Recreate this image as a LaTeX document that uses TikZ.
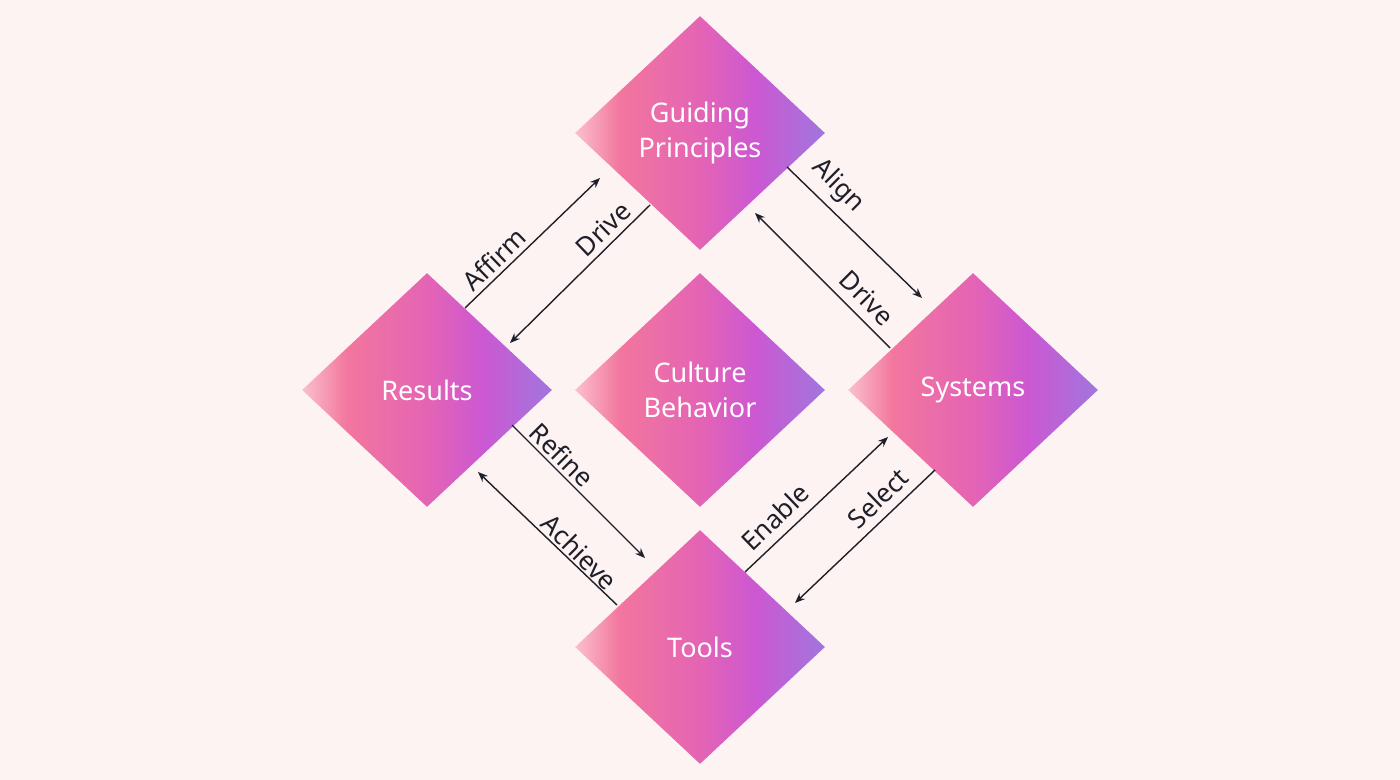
\documentclass[tikz,border=0pt]{standalone}
\usepackage{fontspec}
\setmainfont{Noto Sans}
\usetikzlibrary{shapes.geometric,arrows.meta}
\definecolor{bg}{HTML}{FDF3F2}
\definecolor{ink}{HTML}{1F1F2A}
\pgfdeclarehorizontalshading{dia}{100bp}{color(0bp)=({rgb,255:red,251;green,192;blue,204});color(25bp)=({rgb,255:red,251;green,192;blue,204});color(34bp)=({rgb,255:red,242;green,118;blue,158});color(50bp)=({rgb,255:red,228;green,100;blue,180});color(61bp)=({rgb,255:red,204;green,88;blue,210});color(75bp)=({rgb,255:red,160;green,118;blue,222});color(100bp)=({rgb,255:red,160;green,118;blue,222})}
\begin{document}
\begin{tikzpicture}[x=0.5pt,y=-0.5pt,
  dia/.style={diamond,shading=dia,minimum width=125pt,minimum height=117pt,inner sep=0pt,text=white,font=\fontsize{13.5}{17.5}\selectfont,align=center},
  arr/.style={draw=ink,line width=0.7pt,-{Stealth[length=5pt,width=4pt]}},
  lab/.style={text=ink,font=\fontsize{13}{15}\selectfont,inner sep=0pt}]
\fill[bg] (0,0) rectangle (1400,780);
\node[dia] (gp) at (700,133) {Guiding\\Principles};
\node[dia] (res) at (427,390) {Results};
\node[dia] (cul) at (700,390) {Culture\\Behavior};
\node[dia] (sys) at (973,390) {Systems};
\node[dia] (tools) at (700,647) {Tools};
\coordinate (a1) at (465,308); \coordinate (a2) at (600,178);
\coordinate (b1) at (650,205); \coordinate (b2) at (510,343);
\coordinate (c1) at (787,167); \coordinate (c2) at (922,298);
\coordinate (d1) at (890,348); \coordinate (d2) at (755,213);
\coordinate (e1) at (512,425); \coordinate (e2) at (645,558);
\coordinate (f1) at (617,605); \coordinate (f2) at (478,472);
\coordinate (g1) at (745,572); \coordinate (g2) at (888,437);
\coordinate (h1) at (935,470); \coordinate (h2) at (795,603);
\draw[arr] (a1) -- (a2);
\draw[arr] (b1) -- (b2);
\draw[arr] (c1) -- (c2);
\draw[arr] (d1) -- (d2);
\draw[arr] (e1) -- (e2);
\draw[arr] (f1) -- (f2);
\draw[arr] (g1) -- (g2);
\draw[arr] (h1) -- (h2);
\node[lab,rotate=44] (l1) at (494,259) {Affirm};
\node[lab,rotate=44] (l2) at (603,229) {Drive};
\node[lab,rotate=-45] (l3) at (838,186) {Align};
\node[lab,rotate=-45] (l4) at (867,298) {Drive};
\node[lab,rotate=-45] (l5) at (562,455) {Refine};
\node[lab,rotate=-45] (l6) at (580,552) {Achieve};
\node[lab,rotate=44] (l7) at (775,517) {Enable};
\node[lab,rotate=44] (l8) at (878,498) {Select};
\end{tikzpicture}
\end{document}
